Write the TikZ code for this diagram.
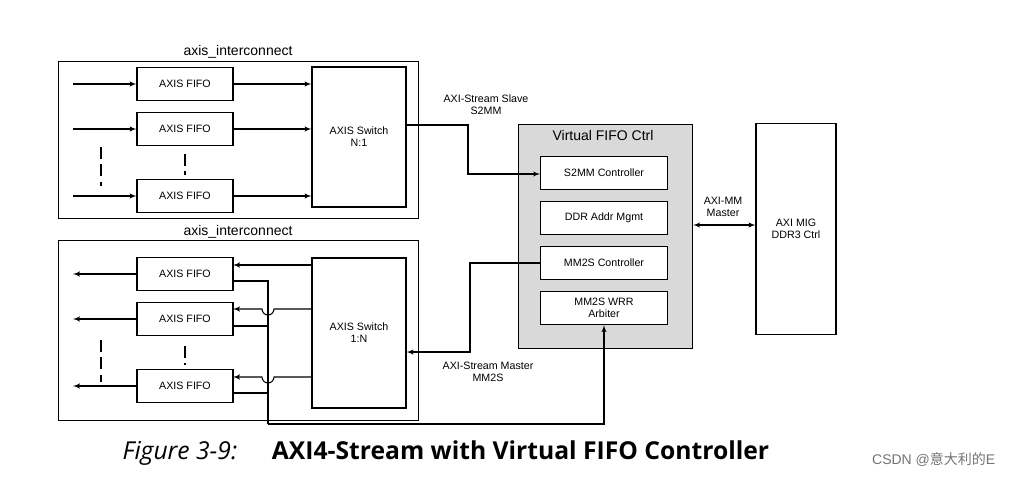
\documentclass[tikz,border=0pt]{standalone}
\usepackage{fontspec}
\setmainfont{Liberation Sans}
\newfontfamily\capfont{Open Sans}
\newfontfamily\cjk{Noto Sans CJK SC}
\usetikzlibrary{arrows}
\tikzset{
  blk/.style={draw, thick, fill=white, minimum width=72pt, minimum height=25pt, font=\fontsize{8}{9}\selectfont, align=center},
  lbl/.style={font=\fontsize{8}{9}\selectfont, align=center},
  wire/.style={thick},
  arr/.style={thick,-latex'},
  dots/.style={thick, dash pattern=on 9pt off 4pt},
}
\begin{document}
\begin{tikzpicture}[x=0.75pt, y=-0.75pt]
	  \useasboundingbox (0,0) rectangle (1013,478);

	  % upper interconnect
	  \node [draw, thick, minimum width=270pt, minimum height=117.75pt, anchor=north west] (ic1) at (58,61) {};
	  \node [font=\fontsize{10.5}{11}\selectfont] at (238,52) {axis\_interconnect};
	  \node [blk] (fa1) at (185,84)  {AXIS FIFO};
	  \node [blk] (fa2) at (185,129) {AXIS FIFO};
	  \node [blk] (fa3) at (185,196) {AXIS FIFO};
	  \node [blk, minimum width=70.5pt, minimum height=105pt] (swa) at (359,137) {AXIS Switch\\N:1};
	  \coordinate (ia1) at (73,84);
	  \coordinate (ia2) at (73,129);
	  \coordinate (ia3) at (73,196);
	  \draw [arr] (ia1) to (fa1);
	  \draw [arr] (ia2) to (fa2);
	  \draw [arr] (ia3) to (fa3);
	  \draw [arr] (fa1) to (fa1 -| swa.west);
	  \draw [arr] (fa2) to (fa2 -| swa.west);
	  \draw [arr] (fa3) to (fa3 -| swa.west);
	  \draw [dots] (101,147) -- (101,186);
	  \draw [dots] (185,154) -- (185,175);

	  % lower interconnect
	  \node [draw, thick, minimum width=270pt, minimum height=135pt, anchor=north west] (ic2) at (58,240) {};
	  \node [font=\fontsize{10.5}{11}\selectfont] at (238,232) {axis\_interconnect};
	  \node [blk] (fb1) at (185,274) {AXIS FIFO};
	  \node [blk] (fb2) at (185,319) {AXIS FIFO};
	  \node [blk] (fb3) at (185,386) {AXIS FIFO};
	  \node [blk, minimum width=70.5pt, minimum height=112.5pt] (swb) at (359,333) {AXIS Switch\\1:N};
	  \coordinate (ob1) at (73,274);
	  \coordinate (ob2) at (73,319);
	  \coordinate (ob3) at (73,386);
	  \draw [arr] (fb1) to (ob1);
	  \draw [arr] (fb2) to (ob2);
	  \draw [arr] (fb3) to (ob3);
	  \draw [dots] (101,340) -- (101,382);
	  \draw [dots] (185,346) -- (185,365);
	  \draw [arr] (312,265) -- (233,265);
	  \draw [arr] (312,309) -- (274,309) arc (0:180:6) -- (233,309);
	  \draw [arr] (312,377) -- (274,377) arc (0:180:6) -- (233,377);

	  % virtual fifo controller
	  \node [draw, thick, fill=black!15, minimum width=130.5pt, minimum height=168pt, anchor=north west] (vf) at (518,124) {};
	  \node [font=\fontsize{10.5}{11}\selectfont] at (603,135) {Virtual FIFO Ctrl};
	  \node [blk, minimum width=95pt] (s2mm) at (604,173) {S2MM Controller};
	  \node [blk, minimum width=95pt] (ddr)  at (604,218) {DDR Addr Mgmt};
	  \node [blk, minimum width=95pt] (mm2s) at (604,263) {MM2S Controller};
	  \node [blk, minimum width=95pt] (wrr)  at (604,308) {MM2S WRR\\Arbiter};
	  \node [blk, minimum width=60pt, minimum height=158pt] (mig) at (796,229) {AXI MIG\\DDR3 Ctrl};

	  \draw [arr] (swa.east |- 0,125) -| (468,174) -- (s2mm.west |- 0,174);
	  \node [lbl] at (486,105) {AXI-Stream Slave\\S2MM};
	  \draw [arr] (mm2s.west) -| (470,352) -- (swb.east |- 0,352);
	  \node [lbl] at (488,372) {AXI-Stream Master\\MM2S};
	  \draw [thick, latex'-latex'] (vf.east |- 0,225) to (mig.west |- 0,225);
	  \node [lbl] at (723,207) {AXI-MM\\Master};

	  % status back to arbiter
	  \draw [wire] (fb1.east |- 0,281) -| (268,424);
	  \draw [wire] (fb2.east |- 0,326) -- (268,326);
	  \draw [wire] (fb3.east |- 0,393) -- (268,393);
	  \draw [arr] (268,424) -| (wrr.south -| 604,0);

	  \node [anchor=west, font=\capfont\fontsize{18.5}{21}\selectfont] at (118,453) {\textit{Figure 3-9:}\hspace{26pt}\textbf{AXI4-Stream with Virtual FIFO Controller}};
	  \node [anchor=east, text=black!55, font=\fontsize{10.5}{12}\selectfont] at (1000,460) {CSDN @{\cjk 意大利的}E};
	\end{tikzpicture}
\end{document}
